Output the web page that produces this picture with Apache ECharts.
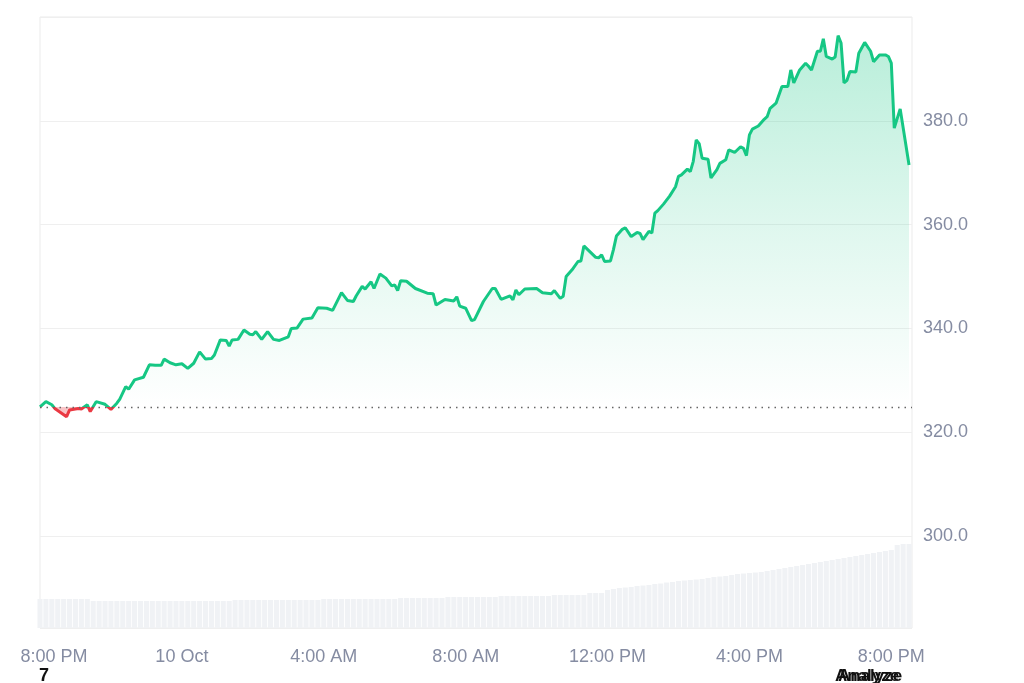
<!DOCTYPE html>
<html>
<head>
<meta charset="utf-8">
<script src="https://cdn.jsdelivr.net/npm/echarts@6/dist/echarts.min.js"></script>
<style>
html,body{margin:0;padding:0;background:#fff;}
#chart{width:1024px;height:683px;}
</style>
</head>
<body>
<div id="chart"></div>
<script>
// minutes since 8:00 PM (9 Oct)
const priceMinutes = [0,10,20,25,45,50,65,70,80,85,95,110,120,130,135,145,150,160,175,185,195,205,210,220,230,240,250,260,270,280,290,295,305,315,320,325,335,345,355,360,365,375,385,395,405,420,425,435,445,460,470,485,495,510,520,530,535,545,550,560,565,575,585,595,600,605,610,620,635,655,665,670,685,700,705,710,720,730,735,750,765,770,780,795,800,805,810,820,840,850,865,870,880,885,890,900,910,915,920,930,940,945,950,955,965,970,975,985,990,1000,1010,1015,1020,1030,1035,1040,1045,1055,1065,1075,1080,1085,1095,1100,1105,1110,1115,1120,1130,1135,1145,1150,1160,1165,1175,1185,1190,1195,1200,1205,1215,1225,1230,1235,1245,1255,1265,1270,1275,1285,1295,1300,1305,1315,1320,1325,1330,1340,1345,1350,1355,1360,1365,1370,1380,1385,1395,1405,1410,1420,1430,1435,1440,1445,1455,1470];
const prices = [324.9,325.9,325.3,324.6,323.0,324.3,324.6,324.5,325.3,324.0,325.9,325.4,324.4,325.6,326.4,328.8,328.3,330.1,330.6,333.0,332.9,332.9,334.1,333.4,333.0,333.2,332.3,333.3,335.5,334.1,334.2,334.9,337.8,337.7,336.6,337.8,337.9,339.7,338.9,338.8,339.4,337.9,339.4,337.9,337.7,338.4,340.0,340.1,341.8,342.0,344.0,343.9,343.5,346.9,345.4,345.2,346.3,348.1,347.6,349.0,347.7,350.5,349.7,348.2,348.4,347.3,349.2,349.1,347.7,346.8,346.7,344.5,345.6,345.3,346.1,344.3,343.9,341.5,341.7,345.2,347.7,347.7,345.6,346.3,345.5,347.4,346.5,347.6,347.7,346.9,346.7,347.3,345.8,346.2,350.0,351.3,352.9,353.0,355.9,354.8,353.7,353.6,354.2,352.9,353.0,355.2,357.8,359.1,359.4,357.7,358.5,358.3,357.1,358.7,358.4,362.2,362.7,364.0,365.5,367.3,369.3,369.6,370.7,370.2,372.2,376.3,375.6,372.8,372.6,369.0,370.6,371.8,372.5,374.4,373.9,375.0,374.7,373.3,377.3,378.4,379.0,380.3,380.8,382.4,383.4,386.6,386.6,389.8,387.3,389.8,391.1,390.5,389.8,393.4,393.4,395.8,392.4,391.9,392.3,396.4,395.0,387.3,387.8,389.5,389.4,393.0,395.1,393.4,391.4,392.7,392.7,392.4,391.1,378.6,382.3,371.5];
const openPrice = 324.9;
// volume, one bar every 10 minutes from 8:00 PM
const volumes = [2.9,2.9,2.9,2.9,2.9,2.9,2.9,2.9,2.9,
2.7,2.7,2.7,2.7,2.7,2.7,2.7,2.7,2.7,2.7,2.7,2.7,2.7,2.7,2.7,2.7,2.7,2.7,2.7,2.7,2.7,2.7,2.7,2.7,
2.8,2.8,2.8,2.8,2.8,2.8,2.8,2.8,2.8,2.8,2.8,2.8,2.8,2.8,2.8,
2.9,2.9,2.9,2.9,2.9,2.9,2.9,2.9,2.9,2.9,2.9,2.9,2.9,
3.0,3.0,3.0,3.0,3.0,3.0,3.0,3.0,
3.1,3.1,3.1,3.1,3.1,3.1,3.1,3.1,3.1,
3.2,3.2,3.2,3.2,3.2,3.2,3.2,3.2,3.2,
3.3,3.3,3.3,3.3,3.3,3.3,
3.5,3.5,3.5,
3.8,3.9,4.0,4.05,4.1,4.2,4.25,4.3,4.4,4.45,4.55,4.6,4.7,4.75,4.8,4.85,4.9,5.0,5.1,5.15,5.2,5.3,5.4,5.45,5.5,5.55,5.6,5.7,5.8,5.9,6.0,6.1,6.2,6.3,6.4,6.5,6.6,6.7,6.8,6.9,7.0,7.1,7.2,7.3,7.4,7.5,7.6,7.7,7.8,8.3,8.4,8.4];
const volumeStep = 10;
const xTickMinutes = [0,240,480,720,960,1200,1440];
const xTickLabels = ['8:00 PM','10 Oct','4:00 AM','8:00 AM','12:00 PM','4:00 PM','8:00 PM'];
const yTickValues = [300,320,340,360,380];

const GREEN = '#16c784', RED = '#ea3943';
const FONT = 'Liberation Sans, Arial, sans-serif';
const priceData = priceMinutes.map((m,i)=>[m, prices[i]]);
const volData = volumes.map((v,i)=>[i*volumeStep, v]);
const maxP = Math.max(...prices);

const chart = echarts.init(document.getElementById('chart'), null, {renderer:'canvas'});
chart.setOption({
  animation:false,
  backgroundColor:'#fff',
  grid:{left:40,right:112,top:17,bottom:55,show:true,borderColor:'#ebebeb',borderWidth:1,backgroundColor:'transparent'},
  xAxis:{type:'value',min:0,max:1475,interval:240,
    axisLine:{show:false},axisTick:{show:false},splitLine:{show:false},
    axisLabel:{margin:20,color:'#858ca2',fontSize:18,fontFamily:FONT,
      showMaxLabel:false,
      formatter:function(v){const k=xTickMinutes.indexOf(v); if(k<0) return ''; return k===0?'{first|'+xTickLabels[k]+'}':xTickLabels[k];},
      rich:{first:{padding:[0,0,0,28],color:'#858ca2',fontSize:18,fontFamily:FONT}}}},
  yAxis:[
    {type:'value',position:'right',min:282.3,max:400,splitNumber:5,
     axisLine:{show:false},axisTick:{show:false},
     splitLine:{lineStyle:{color:'#efefef',width:1}},
     axisLabel:{margin:11,color:'#858ca2',fontSize:18,fontFamily:FONT,
       formatter:function(v){return yTickValues.indexOf(Math.round(v*10)/10)>=0 ? v.toFixed(1) : '';}}},
    {type:'value',show:false,min:0,max:61.1}
  ],
  series:[
    {type:'bar',yAxisIndex:1,data:volData,barCategoryGap:'14%',itemStyle:{color:'#f0f2f5'},z:1,silent:true},
    {type:'line',data:priceData,showSymbol:false,symbol:'none',z:3,
     lineStyle:{width:3,color:GREEN},
     areaStyle:{origin:openPrice,opacity:1,color:'rgba(22,199,132,0.2)'},
     markLine:{silent:true,symbol:['none','none'],label:{show:false},
       lineStyle:{type:[1.5,5],color:'#666',width:1.3},
       data:[{yAxis:openPrice}]}}
  ],
  graphic:[
    {type:'text',left:39,top:667,style:{text:'7',fill:'#111',font:'bold 18px '+FONT}},
    {type:'text',left:835,top:668,style:{text:'Analyze',fill:'#111',font:'bold 17px '+FONT}},
    {type:'text',left:838,top:668,style:{text:'Analyze',fill:'#111',font:'bold 17px '+FONT}}
  ]
});

// colour split at the opening price, using the axis' own pixel mapping
const yOpen = chart.convertToPixel({yAxisIndex:0}, openPrice);
const yTop = chart.convertToPixel({yAxisIndex:0}, maxP);
const span = (yOpen + 4) - yTop;
const fo = (yOpen - yTop) / span;
chart.setOption({series:[{},{
  lineStyle:{color:new echarts.graphic.LinearGradient(0, yOpen-1, 0, yOpen+1, [
    {offset:0,color:GREEN},{offset:0.5,color:GREEN},{offset:0.5,color:RED},{offset:1,color:RED}], true)},
  areaStyle:{color:new echarts.graphic.LinearGradient(0, yTop, 0, yOpen+4, [
    {offset:0,color:'rgba(22,199,132,0.30)'},
    {offset:fo*0.5,color:'rgba(22,199,132,0.14)'},
    {offset:fo,color:'rgba(22,199,132,0.0)'},
    {offset:fo+0.0001,color:'rgba(234,57,67,0.30)'},
    {offset:1,color:'rgba(234,57,67,0.30)'}], true)}
}]});
</script>
</body>
</html>
